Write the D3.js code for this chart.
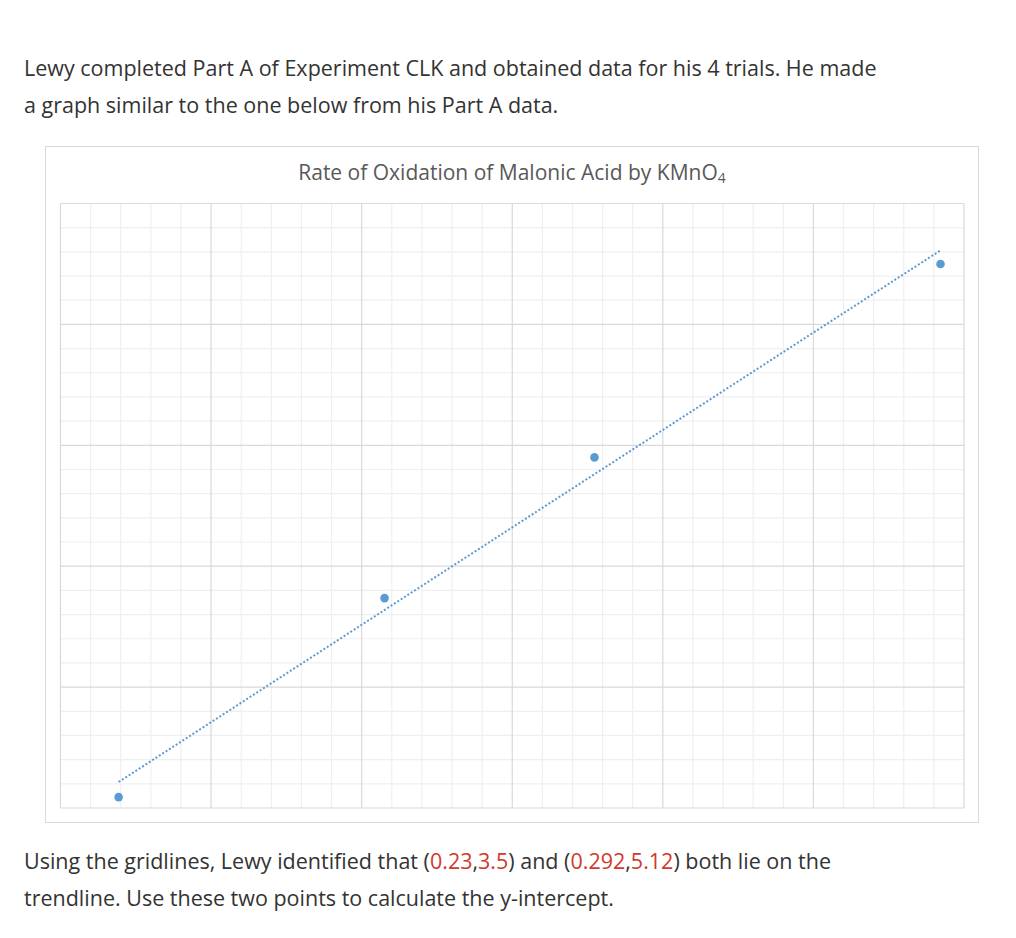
<!DOCTYPE html>
<html><head><meta charset="utf-8">
<script src="https://cdn.jsdelivr.net/npm/d3@7/dist/d3.min.js"></script>
<style>
body{margin:0;background:#fff;}
p{font-family:"Open Sans",sans-serif;font-size:21.5px;color:#333;margin:0;position:absolute;left:24px;line-height:37px;white-space:nowrap;}
.r{color:#d0392b;}
</style></head><body>
<p style="top:49px">Lewy completed Part A of Experiment CLK and obtained data for his 4 trials. He made<br>a graph similar to the one below from his Part A data.</p>
<svg id="c" width="1016" height="938" style="position:absolute;left:0;top:0;z-index:-1"></svg>
<p style="top:842px">Using the gridlines, Lewy identified that (<span class="r">0.23</span>,<span class="r">3.5</span>) and (<span class="r">0.292</span>,<span class="r">5.12</span>) both lie on the<br>trendline. Use these two points to calculate the y-intercept.</p>
<script>
const xValues=[1.93,10.76,17.73,29.22];
const yValues=[0.45,8.68,14.5,22.5];
const xDomain=[0,30], yDomain=[0,25];
const majorStep=5, minorStep=1;
const title="Rate of Oxidation of Malonic Acid by KMnO";

const svg=d3.select("#c");
svg.append("rect").attr("x",45.5).attr("y",146.5).attr("width",933).attr("height",676).attr("fill","#fff").attr("stroke","#d9d9d9");
const x=d3.scaleLinear().domain(xDomain).range([60.5,964]);
const y=d3.scaleLinear().domain(yDomain).range([808,203.5]);
const g=svg.append("g");
const xs=d3.range(xDomain[0],xDomain[1]+0.001,minorStep), ys=d3.range(yDomain[0],yDomain[1]+0.001,minorStep);
const minor=v=>v%majorStep!==0;
g.selectAll(".vx").data(xs.filter(minor)).join("line").attr("x1",x).attr("x2",x).attr("y1",y(yDomain[0])).attr("y2",y(yDomain[1])).attr("stroke","#efefef").attr("stroke-width",1.2);
g.selectAll(".hy").data(ys.filter(minor)).join("line").attr("y1",y).attr("y2",y).attr("x1",x(xDomain[0])).attr("x2",x(xDomain[1])).attr("stroke","#efefef").attr("stroke-width",1.2);
g.selectAll(".vX").data(xs.filter(v=>!minor(v))).join("line").attr("x1",x).attr("x2",x).attr("y1",y(yDomain[0])).attr("y2",y(yDomain[1])).attr("stroke","#d9d9d9").attr("stroke-width",1.2);
g.selectAll(".hY").data(ys.filter(v=>!minor(v))).join("line").attr("y1",y).attr("y2",y).attr("x1",x(xDomain[0])).attr("x2",x(xDomain[1])).attr("stroke","#d9d9d9").attr("stroke-width",1.2);
const mx=d3.mean(xValues), my=d3.mean(yValues);
const sxy=d3.sum(xValues,(v,i)=>(v-mx)*(yValues[i]-my)), sxx=d3.sum(xValues,v=>(v-mx)**2);
const m=sxy/sxx, b=my-m*mx;
const x0=d3.min(xValues), x1=d3.max(xValues);
svg.append("line").attr("x1",x(x0)).attr("y1",y(m*x0+b)).attr("x2",x(x1)).attr("y2",y(m*x1+b)).attr("stroke","#5b9bd5").attr("stroke-width",2).attr("stroke-dasharray","2,2");
svg.selectAll(".d").data(xValues).join("circle").attr("cx",d=>x(d)).attr("cy",(d,i)=>y(yValues[i])).attr("r",4.3).attr("fill","#5b9bd5");
const t=svg.append("text").attr("x",512).attr("y",180).attr("text-anchor","middle").attr("font-family","'Open Sans',sans-serif").attr("font-size",21).attr("fill","#595959").text(title);
t.append("tspan").attr("font-size",14).attr("dy",3).text("4");
</script>
</body></html>
